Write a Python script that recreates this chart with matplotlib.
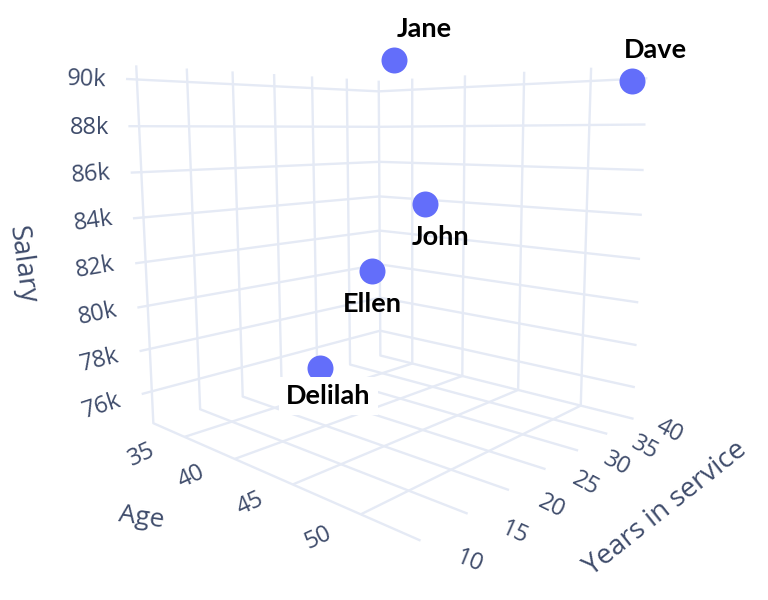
import numpy as np
import matplotlib
matplotlib.use("Agg")
import matplotlib.pyplot as plt
from mpl_toolkits.mplot3d import proj3d

GRID = '#e5eaf5'
plt.rcParams['font.family'] = ['Open Sans', 'DejaVu Sans']
plt.rcParams['grid.color'] = GRID
plt.rcParams['grid.linewidth'] = 1.7

# data
names = ['Jane', 'Dave', 'John', 'Ellen', 'Delilah']
age = [51.42, 51.87, 38.7, 44.29, 35.67]
years = [11.32, 42.69, 35.91, 19.76, 25.04]
salary = [90000, 90000, 84000, 82000, 76000]
label_offset = [(22, 22), (17, 22), (11, -24), (0, -24), (6, -20)]  # points

age_ticks = [35, 40, 45, 50]
age_rot = [25, 25, 25, 25]
age_dy = [-13, -13, -14, -17]  # points
years_ticks = [10, 15, 20, 25, 30, 35, 40]
years_rot = [-22, -24, -26, -28, -28, -28, -28]
years_dx = [35, 34, 31, 29, 28, 27, 26]  # points
years_dy = [-15, -14, -12, -11, -10, -10, -9]  # points
salary_ticks = [76000, 78000, 80000, 82000, 84000, 86000, 88000, 90000]
salary_labels = ['76k', '78k', '80k', '82k', '84k', '86k', '88k', '90k']
salary_rot = [18, 14, 12, 10, 8, 4, 0, -2]
salary_dy = [-11, -8, -6, -4, -3, -2, -1, 0]  # points

TICK = '#3f4c6b'
W, H = 768, 600
A0, A1 = 31.516, 53.788
Z0, Z1 = 74479, 90600

fig = plt.figure(figsize=(W / 100, H / 100), dpi=100)
ax = fig.add_subplot(projection='3d')
ax.set_xlim(A0, A1)
ax.set_ylim(10, 40)
ax.set_zlim(Z0, Z1)
# camera fitted to the grid corners
ax.view_init(elev=8.23, azim=-47.62, roll=0.2)
ax.set_proj_type('persp', focal_length=0.2523)
ax.set_box_aspect((1, 0.9424, 0.9971))

# put the box where it sits in the reference
s, cx, cy = 3212.71, 393.99, 248.54
ax.set_position([0, 0, 1, 1])
(x0, y0), (x1, y1) = ax.transData.inverted().transform(ax.transAxes.transform([(0, 0), (1, 1)]))
ww, hh = s * (x1 - x0), s * (y1 - y0)
ax.set_position([(cx + s * x0) / W, 1 - (cy - s * y1 + hh) / H, ww / W, hh / H])
ax.patch.set_alpha(0)

for axis in (ax.xaxis, ax.yaxis, ax.zaxis):
    axis.set_pane_color((1, 1, 1, 0))
    axis.line.set_color((1, 1, 1, 0))

ax.set_xticks(age_ticks, labels=[''] * len(age_ticks))
ax.set_yticks(years_ticks, labels=[''] * len(years_ticks))
ax.set_zticks(salary_ticks, labels=[''] * len(salary_ticks))
ax.tick_params(axis='both', color=(1, 1, 1, 0))
ax.tick_params(axis='z', color=(1, 1, 1, 0))

# salary lines run a little past the left edge
for z in salary_ticks:
    ax.plot([A0, A0], [9.1, 10], [z, z], color=GRID, lw=1.7)

ax.scatter(age, years, salary, s=350, c='#636efa', depthshade=False, linewidths=0)

M = ax.get_proj()


def put_label(x, y, z, text, off, rot=0, **kw):
    px, py, _ = proj3d.proj_transform(x, y, z, M)
    return ax.annotate(text, (px, py), xytext=off, textcoords='offset points', ha='center', va='center',
                       rotation=rot, annotation_clip=False, **kw)


for a, r, dy in zip(age_ticks, age_rot, age_dy):
    put_label(a, 10, Z0, str(a), (-31, dy), r, fontsize=17, color=TICK)
for y, r, dx, dy in zip(years_ticks, years_rot, years_dx, years_dy):
    put_label(A1, y, Z0, str(y), (dx, dy), r, fontsize=17, color=TICK)
for z, t, r, dy in zip(salary_ticks, salary_labels, salary_rot, salary_dy):
    put_label(A0, 10, z, t, (-36, dy), r, fontsize=17, color=TICK)

for n, a, y, z, off in zip(names, age, years, salary, label_offset):
    # the Delilah label sits on a white box that cuts the bottom of its marker
    box = dict(fc='white', ec='none', pad=5) if n == 'Delilah' else None
    put_label(a, y, z, n, off, fontsize=19.5, fontweight='bold', family=['Lato', 'DejaVu Sans'],
              color='black', zorder=20, bbox=box)

fig.text(22 / W, 1 - 265 / H, 'Salary', fontsize=20, color=TICK, rotation=-82, ha='center', va='center')
fig.text(141 / W, 1 - 518 / H, 'Age', fontsize=19, color=TICK, rotation=-8, ha='center', va='center')
fig.text(666 / W, 1 - 509 / H, 'Years in service', fontsize=20, color=TICK, rotation=38.5, ha='center', va='center')

fig.savefig('out.png', dpi=100)
